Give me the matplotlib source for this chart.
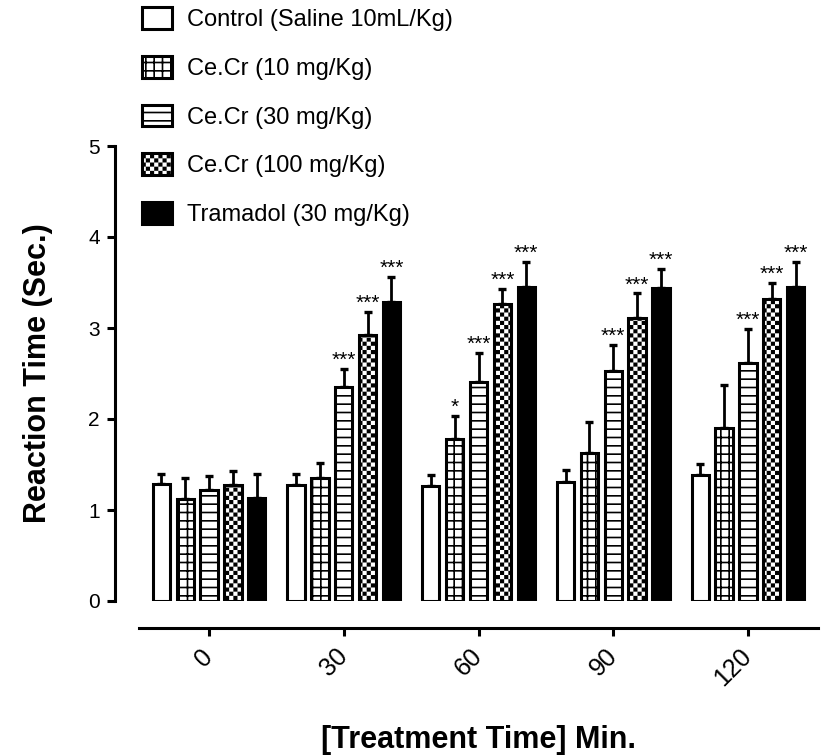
import warnings
import numpy as np
import matplotlib
matplotlib.use('Agg')
import matplotlib.pyplot as plt
from matplotlib import hatch as mhatch
from matplotlib.path import Path

warnings.filterwarnings('ignore')

# Data
times = ['0', '30', '60', '90', '120']
groups = ['Control (Saline 10mL/Kg)', 'Ce.Cr (10 mg/Kg)', 'Ce.Cr (30 mg/Kg)',
          'Ce.Cr (100 mg/Kg)', 'Tramadol (30 mg/Kg)']

control = [1.29, 1.27, 1.26, 1.31, 1.38]
cecr10 = [1.12, 1.35, 1.78, 1.63, 1.90]
cecr30 = [1.22, 2.35, 2.41, 2.53, 2.62]
cecr100 = [1.27, 2.92, 3.26, 3.11, 3.32]
tramadol = [1.13, 3.29, 3.45, 3.44, 3.45]

control_sem = [0.11, 0.13, 0.12, 0.13, 0.13]
cecr10_sem = [0.23, 0.17, 0.25, 0.34, 0.47]
cecr30_sem = [0.15, 0.20, 0.32, 0.28, 0.37]
cecr100_sem = [0.16, 0.26, 0.17, 0.27, 0.18]
tramadol_sem = [0.27, 0.27, 0.28, 0.21, 0.28]

control_sig = ['', '', '', '', '']
cecr10_sig = ['', '', '*', '', '']
cecr30_sig = ['', '***', '***', '***', '***']
cecr100_sig = ['', '***', '***', '***', '***']
tramadol_sig = ['', '***', '***', '***', '***']


# checkerboard hatch ('c'), Prism-style
class CheckerHatch(mhatch.HatchPatternBase):
    filled = True

    def __init__(self, hatch, density):
        self.n = hatch.count('c') * density
        self.num_vertices = (self.n * self.n // 2) * 5 if self.n else 0

    def set_vertices_and_codes(self, vertices, codes):
        s = 1.0 / self.n
        pad = 0.0085
        k = 0
        for i in range(self.n):
            for j in range(self.n):
                if (i + j) % 2:
                    continue
                x0, y0 = i * s + pad, j * s + pad
                x1, y1 = (i + 1) * s - pad, (j + 1) * s - pad
                vertices[k:k + 5] = [(x0, y0), (x1, y0), (x1, y1), (x0, y1), (x0, y0)]
                codes[k:k + 5] = [Path.MOVETO, Path.LINETO, Path.LINETO,
                                  Path.LINETO, Path.CLOSEPOLY]
                k += 5


mhatch._hatch_types.append(CheckerHatch)

plt.rcParams['font.family'] = ['Liberation Sans', 'DejaVu Sans']
plt.rcParams['hatch.linewidth'] = 1.2

fig = plt.figure(figsize=(8.29, 7.56), dpi=100)
ax = fig.add_axes([139 / 829, 155 / 756, 679 / 829, 455 / 756])

x = np.arange(len(times))
step = 0.177
width = 0.128

series = [
    (control, control_sem, control_sig, 'white', ''),
    (cecr10, cecr10_sem, cecr10_sig, 'white', '++'),
    (cecr30, cecr30_sem, cecr30_sig, 'white', '--'),
    (cecr100, cecr100_sem, cecr100_sig, 'white', 'cccc'),
    (tramadol, tramadol_sem, tramadol_sig, 'black', ''),
]

for i, (vals, sem, sig, fc, hatch) in enumerate(series):
    pos = x + (i - 2) * step
    ax.errorbar(pos, vals, yerr=[np.zeros(len(vals)), sem], fmt='none',
                ecolor='black', elinewidth=2, capsize=2.6, capthick=2.4, zorder=1)
    ax.bar(pos, vals, width=width, color=fc, edgecolor='black', linewidth=2.2,
           hatch=hatch, label=groups[i], zorder=2)
    for p, v, e, s in zip(pos, vals, sem, sig):
        if s:
            ax.text(p, v + e - 0.01, s, ha='center', va='bottom', fontsize=15)

ax.set_xlim(-0.52, 4.52)
ax.set_ylim(0, 5)
ax.set_yticks([0, 1, 2, 3, 4, 5])
ax.set_xticks(x, times)

for side in ['top', 'right']:
    ax.spines[side].set_visible(False)
ax.spines['left'].set_position(('outward', 17.3))
ax.spines['bottom'].set_position(('outward', 19.4))
ax.spines['left'].set_linewidth(2.2)
ax.spines['bottom'].set_linewidth(2.2)
ax.tick_params(axis='both', width=2.2, length=5.8, pad=5)
ax.tick_params(axis='y', labelsize=15)
ax.tick_params(axis='x', labelsize=18, labelrotation=45, pad=12)
for lab in ax.get_xticklabels():
    lab.set_ha('right')
    lab.set_va('center')
    lab.set_rotation_mode('anchor')

ax.set_ylabel('Reaction Time (Sec.)', fontsize=22, fontweight='bold', va='center')
ax.yaxis.set_label_coords(-0.149, 0.5)
ax.set_xlabel('[Treatment Time] Min.', fontsize=22, fontweight='bold', va='center')
ax.xaxis.set_label_coords(0.5, -0.305)

ax.legend(loc='upper left', bbox_to_anchor=(142 / 829, 1 - 7 / 756),
          bbox_transform=fig.transFigure, frameon=False, fontsize=17,
          handlelength=1.25, handleheight=1.05, labelspacing=1.05,
          handletextpad=0.65, borderpad=0, borderaxespad=0)

plt.savefig('out.png', dpi=100)
